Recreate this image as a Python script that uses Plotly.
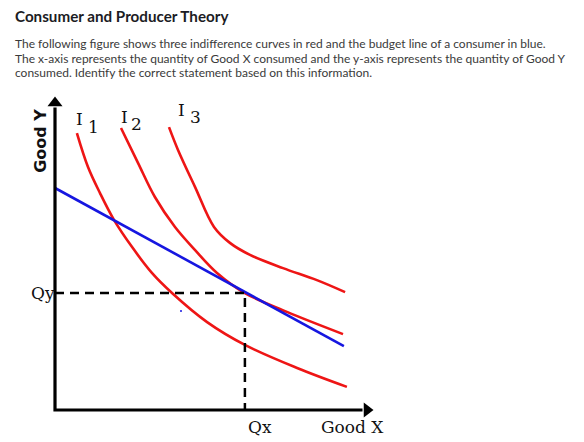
import plotly.graph_objects as go

# Page body has an 8px margin, so the figure is sized/offset to land where the reference sits.
PAGE_W, PAGE_H, BODY = 584, 442, 8
W, H = PAGE_W - BODY, PAGE_H - BODY
PX = 30.0            # pixels per unit
OX, OY = 55, 410     # origin in page pixels

# Indifference curves (units of Good X / Good Y)
i1_x = [0.73, 1.10, 1.50, 1.97, 2.57, 3.23, 3.90, 5.07, 6.33, 8.07, 9.73]
i1_y = [9.23, 8.10, 7.23, 6.33, 5.43, 4.57, 3.90, 2.93, 2.17, 1.40, 0.77]
i2_x = [2.20, 2.77, 3.33, 4.00, 4.67, 5.40, 6.33, 7.73, 9.60]
i2_y = [9.40, 8.23, 7.10, 6.10, 5.33, 4.57, 3.90, 3.27, 2.53]
i3_x = [3.80, 4.10, 4.67, 5.30, 5.83, 6.50, 7.60, 8.73, 9.67]
i3_y = [9.43, 8.67, 7.43, 6.10, 5.57, 5.17, 4.73, 4.33, 3.93]
# Budget line
budget_x = [0.0, 9.63]
budget_y = [7.40, 2.13]
# Optimum
qx, qy = 6.33, 3.90
x_max, y_max = 10.6, 10.43
curve_labels = ["1", "2", "3"]

RED = "#ee1515"
BLUE = "#1616e0"

fig = go.Figure()
for xs, ys in [(i1_x, i1_y), (i2_x, i2_y), (i3_x, i3_y)]:
    fig.add_trace(go.Scatter(x=xs, y=ys, mode="lines", line=dict(color=RED, width=2.6, shape="spline", smoothing=1.0), hoverinfo="skip"))
fig.add_trace(go.Scatter(x=budget_x, y=budget_y, mode="lines", line=dict(color=BLUE, width=2.6), hoverinfo="skip"))
# dashed guides
fig.add_trace(go.Scatter(x=[0, qx, qx], y=[qy, qy, 0], mode="lines", line=dict(color="black", width=2.5, dash="9px,6px"), hoverinfo="skip"))
# tiny stray dot
fig.add_trace(go.Scatter(x=[4.2], y=[3.3], mode="markers", marker=dict(color=BLUE, size=2), hoverinfo="skip"))

# axes lines
fig.add_trace(go.Scatter(x=[0, 0, x_max - 0.35], y=[y_max - 0.35, 0, 0], mode="lines", line=dict(color="black", width=3.2), hoverinfo="skip"))
fig.add_trace(go.Scatter(x=[0], y=[y_max - 0.2], mode="markers", marker=dict(symbol="triangle-up", size=13, color="black"), hoverinfo="skip"))
fig.add_trace(go.Scatter(x=[x_max - 0.2], y=[0], mode="markers", marker=dict(symbol="triangle-right", size=13, color="black"), hoverinfo="skip"))

serif = dict(family="DejaVu Serif", size=17, color="#111")
ann = []
ann.append(dict(x=-0.47, y=8.97, text="<b>Good Y</b>", textangle=-90, font=dict(family="DejaVu Sans", size=16, color="#111")))
ann.append(dict(x=-0.40, y=qy, text="Qy", font=serif))
ann.append(dict(x=6.83, y=-0.57, text="Qx", font=serif))
ann.append(dict(x=9.90, y=-0.57, text="Good X", font=serif))
for (lx, ly), (nx, ny), lab in zip([(0.83, 9.70), (2.30, 9.77), (4.23, 10.0)],
                                     [(1.27, 9.43), (2.73, 9.53), (4.67, 9.77)], curve_labels):
    ann.append(dict(x=lx, y=ly, text="I", font=serif))
    ann.append(dict(x=nx, y=ny, text=lab, font=serif))
for a in ann:
    a.update(xref="x", yref="y", showarrow=False, xanchor="center", yanchor="middle")


def px_x(p):
    return (p - BODY) / W


def px_y(p):
    return 1 - (p - BODY) / H


title_font = dict(family="Lato", size=15.2, color="#1c1c24")
body_font = dict(family="Lato", size=12, color="#3a3a3a")
ann.append(dict(x=px_x(13), y=px_y(16), text="<b>Consumer and Producer Theory</b>", font=title_font))
body = [
    "The following figure shows three indifference curves in red and the budget line of a consumer in blue.",
    "The x-axis represents the quantity of Good X consumed and the y-axis represents the quantity of Good Y",
    "consumed. Identify the correct statement based on this information.",
]
for i, line in enumerate(body):
    ann.append(dict(x=px_x(13), y=px_y(43 + 15 * i), text=line, font=body_font))
for a in ann[-4:]:
    a.update(xref="paper", yref="paper", showarrow=False, xanchor="left", yanchor="middle")

fig.update_layout(
    width=W, height=H, margin=dict(l=0, r=0, t=0, b=0),
    paper_bgcolor="white", plot_bgcolor="white", showlegend=False,
    annotations=ann,
    shapes=[dict(type="line", xref="paper", yref="paper", x0=px_x(582), x1=px_x(582), y0=0, y1=1, line=dict(color="#e4e4e4", width=1))],
    xaxis=dict(range=[(BODY - OX) / PX, (PAGE_W - OX) / PX], visible=False, fixedrange=True),
    yaxis=dict(range=[(OY - PAGE_H) / PX, (OY - BODY) / PX], visible=False, fixedrange=True),
)
fig.write_html("out.html")
